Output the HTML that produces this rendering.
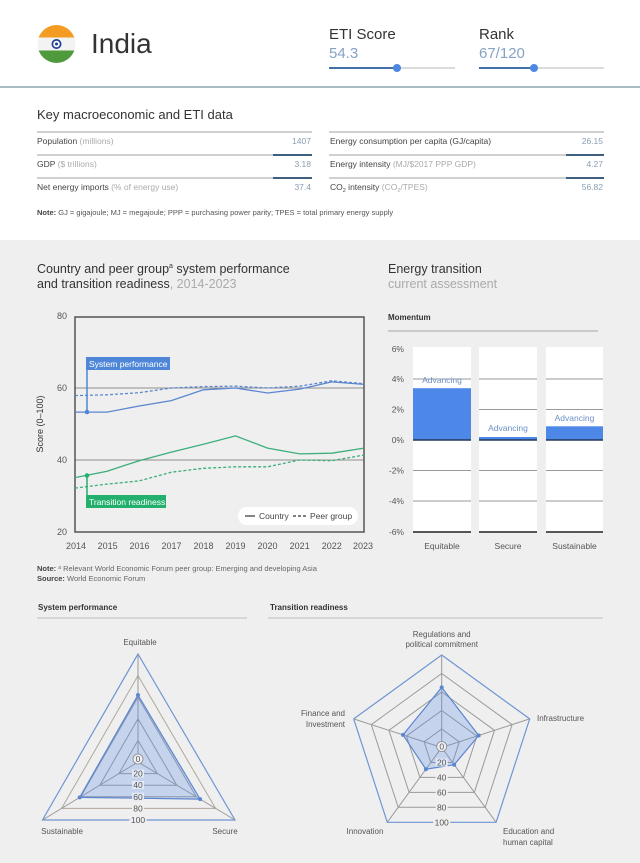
<!DOCTYPE html>
<html><head><meta charset="utf-8"><style>
html,body{margin:0;padding:0;width:640px;height:863px;overflow:hidden;background:#efefef}
svg{display:block}
text{font-family:"Liberation Sans",Arial,sans-serif}
</style></head><body>
<svg width="640" height="863" viewBox="0 0 640 863" xmlns="http://www.w3.org/2000/svg">
<rect x="0" y="0" width="640" height="240" fill="#ffffff"/>
<rect x="0" y="240" width="640" height="623" fill="#efefef"/>

<!-- Header -->
<defs><clipPath id="fc"><circle cx="56.5" cy="44" r="19"/></clipPath></defs>
<g clip-path="url(#fc)">
<rect x="37" y="25" width="40" height="13" fill="#f39b22"/>
<rect x="37" y="37.5" width="40" height="13" fill="#f3f3f3"/>
<rect x="37" y="50.5" width="40" height="13" fill="#4e9a3c"/>
</g>
<circle cx="56.5" cy="44" r="5" fill="#1f3f91"/>
<circle cx="56.5" cy="44" r="3.3" fill="#ffffff"/>
<circle cx="56.5" cy="44" r="1.5" fill="#1f3f91"/>
<text x="91" y="53" font-size="28" fill="#333">India</text>
<line x1="0" y1="87" x2="640" y2="87" stroke="#a9bcc4" stroke-width="2"/>

<text x="329" y="39" font-size="15" fill="#333">ETI Score</text>
<text x="329" y="58" font-size="15" fill="#86a2c6">54.3</text>
<line x1="329" y1="68" x2="397" y2="68" stroke="#4470a8" stroke-width="2"/>
<line x1="397" y1="68" x2="455" y2="68" stroke="#cfcfcf" stroke-width="1.5"/>
<circle cx="397" cy="68" r="4" fill="#4d88e0"/>
<text x="479" y="39" font-size="15" fill="#333">Rank</text>
<text x="479" y="58" font-size="15" fill="#86a2c6">67/120</text>
<line x1="479" y1="68" x2="534" y2="68" stroke="#4470a8" stroke-width="2"/>
<line x1="534" y1="68" x2="604" y2="68" stroke="#cfcfcf" stroke-width="1.5"/>
<circle cx="534" cy="68" r="4" fill="#4d88e0"/>

<!-- Key data table -->
<text x="37" y="119" font-size="13" fill="#333">Key macroeconomic and ETI data</text>
<g stroke="#a0a0a0" stroke-width="1">
<line x1="37" y1="132" x2="312" y2="132"/>
<line x1="37" y1="155" x2="312" y2="155"/>
<line x1="37" y1="178" x2="312" y2="178"/>
<line x1="329" y1="132" x2="604" y2="132"/>
<line x1="329" y1="155" x2="604" y2="155"/>
<line x1="329" y1="178" x2="604" y2="178"/>
</g>
<g stroke="#3d5f80" stroke-width="2">
<line x1="273" y1="155" x2="312" y2="155"/>
<line x1="273" y1="178" x2="312" y2="178"/>
<line x1="566" y1="155" x2="604" y2="155"/>
<line x1="566" y1="178" x2="604" y2="178"/>
</g>
<g font-size="8.5">
<text x="37" y="144" fill="#444">Population <tspan fill="#aaa">(millions)</tspan></text>
<text x="37" y="167" fill="#444">GDP <tspan fill="#aaa">($ trillions)</tspan></text>
<text x="37" y="190" fill="#444">Net energy imports <tspan fill="#aaa">(% of energy use)</tspan></text>
<text x="311" y="144" fill="#8a9db2" text-anchor="end">1407</text>
<text x="311" y="167" fill="#8a9db2" text-anchor="end">3.18</text>
<text x="311" y="190" fill="#8a9db2" text-anchor="end">37.4</text>
<text x="330" y="144" fill="#444">Energy consumption per capita (GJ/capita)</text>
<text x="330" y="167" fill="#444">Energy intensity <tspan fill="#aaa">(MJ/$2017 PPP GDP)</tspan></text>
<text x="330" y="190" fill="#444">CO<tspan font-size="5.5" dy="2">2</tspan><tspan dy="-2"> intensity </tspan><tspan fill="#aaa">(CO<tspan font-size="5.5" dy="2">2</tspan><tspan dy="-2">/TPES)</tspan></tspan></text>
<text x="603" y="144" fill="#8a9db2" text-anchor="end">26.15</text>
<text x="603" y="167" fill="#8a9db2" text-anchor="end">4.27</text>
<text x="603" y="190" fill="#8a9db2" text-anchor="end">56.82</text>
</g>
<text x="37" y="215" font-size="7.5" fill="#555"><tspan font-weight="bold" fill="#444">Note:</tspan> GJ = gigajoule; MJ = megajoule; PPP = purchasing power parity; TPES = total primary energy supply</text>

<!-- Line chart -->
<text x="37" y="273" font-size="12.5" fill="#333">Country and peer group<tspan font-size="7" dy="-5">a</tspan><tspan dy="5"> system performance</tspan></text>
<text x="37" y="288" font-size="12.5" fill="#333">and transition readiness<tspan fill="#aaa">, 2014-2023</tspan></text>

<line x1="75" y1="388" x2="364" y2="388" stroke="#8f8f8f" stroke-width="1"/>
<line x1="75" y1="460" x2="364" y2="460" stroke="#8f8f8f" stroke-width="1"/>
<rect x="75" y="317" width="289" height="215" fill="none" stroke="#555" stroke-width="1.5"/>
<g font-size="9" fill="#555" text-anchor="end">
<text x="67" y="319">80</text>
<text x="67" y="391">60</text>
<text x="67" y="463">40</text>
<text x="67" y="535">20</text>
</g>
<g font-size="9" fill="#555" text-anchor="middle">
<text x="76" y="549">2014</text>
<text x="107.6" y="549">2015</text>
<text x="139.5" y="549">2016</text>
<text x="171.5" y="549">2017</text>
<text x="203.5" y="549">2018</text>
<text x="235.5" y="549">2019</text>
<text x="267.5" y="549">2020</text>
<text x="299.7" y="549">2021</text>
<text x="331.8" y="549">2022</text>
<text x="363" y="549">2023</text>
</g>
<text transform="translate(43,424) rotate(-90)" font-size="9" fill="#333" text-anchor="middle">Score (0–100)</text>

<g fill="none" stroke-width="1.3">
<polyline stroke="#5b86d0" stroke-dasharray="3,2" points="75,395.6 107.1,394.8 139.2,392.7 171.3,388 203.4,386.6 235.5,386.2 267.6,388 299.7,386.2 331.8,380.8 364,383.7"/>
<polyline stroke="#5b86d0" points="75,412.1 107.1,412.1 139.2,406 171.3,400.6 203.4,389.8 235.5,388 267.6,393 299.7,389.1 331.8,381.9 364,384.4"/>
<polyline stroke="#3bae7a" stroke-dasharray="3,2" points="75,488.1 107.1,484.1 139.2,480.9 171.3,472.2 203.4,468.3 235.5,466.8 267.6,466.8 299.7,460 331.8,460.7 364,455"/>
<polyline stroke="#3bae7a" points="75,477.6 107.1,471.2 139.2,460.7 171.3,452.1 203.4,444.2 235.5,435.9 267.6,448.1 299.7,453.9 331.8,453.2 364,448.1"/>
</g>
<line x1="87" y1="358" x2="87" y2="412" stroke="#4f87d8" stroke-width="1.5"/>
<circle cx="87" cy="412" r="2.3" fill="#4f87d8"/>
<rect x="86" y="357" width="84" height="13" fill="#4f87d8"/>
<text x="89" y="367" font-size="8.5" fill="#fff">System performance</text>
<line x1="87" y1="475.5" x2="87" y2="500" stroke="#22b06c" stroke-width="1.5"/>
<circle cx="87" cy="475.5" r="2.3" fill="#22b06c"/>
<rect x="86" y="495" width="80" height="13" fill="#22b06c"/>
<text x="89" y="505" font-size="8.5" fill="#fff">Transition readiness</text>

<rect x="238" y="507" width="120" height="18" rx="9" fill="#ffffff"/>
<line x1="245" y1="516" x2="255" y2="516" stroke="#333" stroke-width="1.2"/>
<text x="259" y="519" font-size="8.5" fill="#444">Country</text>
<line x1="293" y1="516" x2="306" y2="516" stroke="#333" stroke-width="1.2" stroke-dasharray="3,2"/>
<text x="310" y="519" font-size="8.5" fill="#444">Peer group</text>

<text x="37" y="571" font-size="7.5" fill="#666"><tspan font-weight="bold" fill="#444">Note:</tspan> <tspan font-size="5" dy="-2">a</tspan><tspan dy="2"> Relevant World Economic Forum peer group: Emerging and developing Asia</tspan></text>
<text x="37" y="581" font-size="7.5" fill="#666"><tspan font-weight="bold" fill="#444">Source:</tspan> World Economic Forum</text>

<!-- Bar chart -->
<text x="388" y="273" font-size="12.5" fill="#333">Energy transition</text>
<text x="388" y="288" font-size="12.5" fill="#aaa">current assessment</text>
<text x="388" y="320" font-size="8" font-weight="bold" fill="#333">Momentum</text>
<line x1="388" y1="331" x2="598" y2="331" stroke="#bdbdbd" stroke-width="1.5"/>
<g fill="#ffffff">
<rect x="413" y="347" width="58" height="186"/>
<rect x="479" y="347" width="58" height="186"/>
<rect x="546" y="347" width="57" height="186"/>
</g>
<g stroke="#9a9a9a" stroke-width="1">
<path d="M413 379H471M479 379H537M546 379H603"/>
<path d="M413 409.5H471M479 409.5H537M546 409.5H603"/>
<path d="M413 470.5H471M479 470.5H537M546 470.5H603"/>
<path d="M413 501H471M479 501H537M546 501H603"/>
</g>
<g fill="#4d88e8">
<rect x="413" y="388.2" width="58" height="51.8"/>
<rect x="479" y="437" width="58" height="3"/>
<rect x="546" y="426.3" width="57" height="13.7"/>
</g>
<path d="M413 440H471M479 440H537M546 440H603" stroke="#23385a" stroke-width="1.5"/>
<path d="M413 532H471M479 532H537M546 532H603" stroke="#555" stroke-width="2"/>
<g font-size="8.5" fill="#555" text-anchor="end">
<text x="404" y="352">6%</text>
<text x="404" y="382">4%</text>
<text x="404" y="412.5">2%</text>
<text x="404" y="443">0%</text>
<text x="404" y="473.5">-2%</text>
<text x="404" y="504">-4%</text>
<text x="404" y="535">-6%</text>
</g>
<g font-size="8.5" fill="#6b8fc8" text-anchor="middle">
<text x="442" y="383">Advancing</text>
<text x="508" y="431">Advancing</text>
<text x="574.5" y="421">Advancing</text>
</g>
<g font-size="8.5" fill="#555" text-anchor="middle">
<text x="442" y="549">Equitable</text>
<text x="508" y="549">Secure</text>
<text x="574.5" y="549">Sustainable</text>
</g>

<!-- Radar 1: System performance -->
<text x="38" y="610" font-size="8" font-weight="bold" fill="#333">System performance</text>
<line x1="37" y1="618" x2="247" y2="618" stroke="#bdbdbd" stroke-width="1"/>
<g fill="none" stroke-width="1">
<polygon stroke="#9a9a9a" points="138,740.4 157.4,773.6 118.9,773.6"/>
<polygon stroke="#9a9a9a" points="138,718.8 176.8,785.2 99.8,785.2"/>
<polygon stroke="#9a9a9a" points="138,697.2 196.2,796.8 80.7,796.8"/>
<polygon stroke="#b0a898" points="138,675.6 215.6,808.4 61.6,808.4"/>
<polygon stroke="#6f95d3" stroke-width="1.2" points="138,654 235,820 42.5,820"/>
<path stroke="#9a9a9a" d="M138 762L138 654M138 762L235 820M138 762L42.5 820"/>
</g>
<polygon points="138,695 200.1,799.1 79.7,797.4" fill="rgba(90,140,230,0.28)" stroke="#5b86d0" stroke-width="1.2"/>
<g fill="#5b86d0"><circle cx="138" cy="695" r="2"/><circle cx="200.1" cy="799.1" r="2"/><circle cx="79.7" cy="797.4" r="2"/></g>
<circle cx="138" cy="759" r="5" fill="#eef0f6" stroke="#888" stroke-width="0.8"/>
<g font-size="8.5" fill="#555" text-anchor="middle">
<text x="138" y="762">0</text>
<rect x="132" y="769.5" width="12" height="8" fill="#e3e9f6" stroke="none"/><text x="138" y="776.6">20</text>
<rect x="132" y="781" width="12" height="8" fill="#e3e9f6"/><text x="138" y="788.2">40</text>
<rect x="132" y="792.7" width="12" height="8" fill="#e3e9f6"/><text x="138" y="799.8">60</text>
<rect x="132" y="804.3" width="12" height="8" fill="#efefef"/><text x="138" y="811.4">80</text>
<rect x="129.5" y="816" width="17" height="8" fill="#efefef"/><text x="138" y="823">100</text>
</g>
<g font-size="8" fill="#555" text-anchor="middle">
<text x="140" y="645">Equitable</text>
<text x="62" y="834">Sustainable</text>
<text x="225" y="834">Secure</text>
</g>

<!-- Radar 2: Transition readiness -->
<text x="270" y="610" font-size="8" font-weight="bold" fill="#333">Transition readiness</text>
<line x1="268" y1="618" x2="603" y2="618" stroke="#bdbdbd" stroke-width="1"/>
<g fill="none" stroke-width="1">
<polygon stroke="#9a9a9a" points="441.7,729 459.3,741.8 452.6,762.5 430.8,762.5 424.1,741.8"/>
<polygon stroke="#9a9a9a" points="441.7,710.5 476.9,736.1 463.5,777.4 419.9,777.4 406.5,736.1"/>
<polygon stroke="#9a9a9a" points="441.7,692 494.5,730.3 474.3,792.4 409.1,792.4 388.9,730.3"/>
<polygon stroke="#9a9a9a" points="441.7,673.5 512.1,724.6 485.2,807.3 398.2,807.3 371.3,724.6"/>
<polygon stroke="#6f95d3" stroke-width="1.2" points="441.7,655 529.7,718.9 496.1,822.3 387.3,822.3 353.7,718.9"/>
<path stroke="#9a9a9a" d="M441.7 747.5L441.7 655M441.7 747.5L529.7 718.9M441.7 747.5L496.1 822.3M441.7 747.5L387.3 822.3M441.7 747.5L353.7 718.9"/>
</g>
<polygon points="441.7,687.4 478.7,735.5 454.2,764.7 425.9,769.2 403,734.9" fill="rgba(90,140,230,0.28)" stroke="#5b86d0" stroke-width="1.2"/>
<g fill="#5b86d0"><circle cx="441.7" cy="687.4" r="2"/><circle cx="478.7" cy="735.5" r="2"/><circle cx="454.2" cy="764.7" r="2"/><circle cx="425.9" cy="769.2" r="2"/><circle cx="403" cy="734.9" r="2"/></g>
<circle cx="441.7" cy="746.5" r="5" fill="#eef0f6" stroke="#888" stroke-width="0.8"/>
<g font-size="8.5" fill="#555" text-anchor="middle">
<text x="441.7" y="749.5">0</text>
<rect x="435.7" y="758.5" width="12" height="8" fill="#e3e9f6"/><text x="441.7" y="765.5">20</text>
<rect x="435.7" y="773.4" width="12" height="8" fill="#efefef"/><text x="441.7" y="780.4">40</text>
<rect x="435.7" y="788.4" width="12" height="8" fill="#efefef"/><text x="441.7" y="795.4">60</text>
<rect x="435.7" y="803.3" width="12" height="8" fill="#efefef"/><text x="441.7" y="810.3">80</text>
<rect x="433.2" y="818.3" width="17" height="8" fill="#efefef"/><text x="441.7" y="825.3">100</text>
</g>
<g font-size="8" fill="#555">
<text x="441.7" y="637" text-anchor="middle">Regulations and</text>
<text x="441.7" y="647" text-anchor="middle">political commitment</text>
<text x="537" y="721">Infrastructure</text>
<text x="345" y="716" text-anchor="end">Finance and</text>
<text x="345" y="727" text-anchor="end">Investment</text>
<text x="365" y="834" text-anchor="middle">Innovation</text>
<text x="503" y="834">Education and</text>
<text x="503" y="845">human capital</text>
</g>
</svg>
</body></html>
